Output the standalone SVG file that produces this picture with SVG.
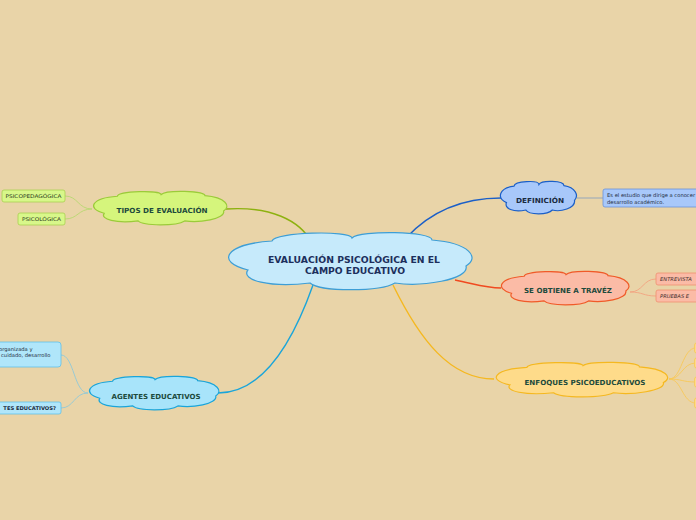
<svg xmlns="http://www.w3.org/2000/svg" xmlns:xlink="http://www.w3.org/1999/xlink" width="696" height="520" viewBox="0 0 696 520">
<style>
.t{font-family:"DejaVu Sans","Verdana",sans-serif;font-weight:bold;fill:#1d4a3c}
.s{font-family:"DejaVu Sans","Verdana",sans-serif;fill:#1e2b3a;font-size:5.2px}
.c{fill:none;stroke-width:1.4}
.l{fill:none;stroke-width:0.9}
</style>
<defs>
<path id="cloud" vector-effect="non-scaling-stroke" d="M19.2,15.5 C20.4,0 50.4,-3.4 51.2,10.3 C54.4,-3.4 83.2,-1.7 83.2,13.8 C98.4,19 102.4,44.8 96.8,58.6 C98.4,82.8 78.4,94.8 68.4,87.9 C62.4,103.4 38.4,103.4 34.4,87.9 C18.4,96.6 6.4,82.8 9.6,65.5 C-3.6,51.7 0.4,20.7 19.2,15.5 Z"/>
</defs>
<rect width="696" height="520" fill="#e9d4a8"/>
<g id="connectors">
<path class="c" stroke="#8db10f" d="M226,209 C270,206 300,220 312,243"/>
<path class="c" stroke="#1b5fc8" d="M406,238 C430,212 460,198 501,198"/>
<path class="c" stroke="#f04a20" d="M455,280 C475,284 485,288 501,288"/>
<path class="c" stroke="#f5b820" d="M393,285 C420,340 450,379 494,379"/>
<path class="c" stroke="#1aa5da" d="M313,285 C290,350 260,393 218,393"/>
<path class="l" stroke="#b8d870" d="M92,209 C78,209 78,196 65,196"/>
<path class="l" stroke="#b8d870" d="M92,209 C78,209 78,219 65,219"/>
<path class="l" stroke="#8aa2bc" d="M577,198 L603,198"/>
<path class="l" stroke="#f3a380" d="M630,292 C643,292 643,279 656,279"/>
<path class="l" stroke="#f3a380" d="M630,292 C643,292 643,296 656,296"/>
<path class="l" stroke="#90c8d8" d="M88,393 C74,393 74,355 61,355"/>
<path class="l" stroke="#90c8d8" d="M88,393 C74,393 74,408 61,408"/>
<path class="l" stroke="#f8c858" d="M669,379 C682,379 682,348 696,348"/>
<path class="l" stroke="#f8c858" d="M669,379 C682,379 682,363 696,363"/>
<path class="l" stroke="#f8c858" d="M669,379 C682,379 682,382 696,382"/>
<path class="l" stroke="#f8c858" d="M669,379 C682,379 682,403 696,403"/>
</g>
<g id="central">
<use xlink:href="#cloud" transform="translate(224,232) scale(2.5,0.58)" fill="#c6eafb" stroke="#3d9ed6" stroke-width="1.2"/>
<text class="t" x="354" y="263" font-size="8.6" text-anchor="middle" fill="#1c2f5c" style="fill:#1c2f5c" textLength="172" lengthAdjust="spacingAndGlyphs">EVALUACIÓN PSICOLÓGICA EN EL</text>
<text class="t" x="355" y="274" font-size="8.6" text-anchor="middle" style="fill:#1c2f5c" textLength="100" lengthAdjust="spacingAndGlyphs">CAMPO EDUCATIVO</text>
</g>
<g id="tipos">
<use xlink:href="#cloud" transform="translate(91,191) scale(1.37,0.34)" fill="#d5f57c" stroke="#9bcb3a" stroke-width="1.2"/>
<text class="t" x="162" y="213" font-size="7" text-anchor="middle" textLength="91" lengthAdjust="spacingAndGlyphs">TIPOS DE EVALUACIÓN</text>
</g>
<g id="psicopedagogica">
<rect x="2" y="190" width="63" height="12" rx="2" fill="#d8f78a" stroke="#a8d050" stroke-width="0.8"/>
<text class="t" x="33.5" y="198" font-size="5" text-anchor="middle" style="fill:#2a3a20;font-weight:normal" textLength="56" lengthAdjust="spacingAndGlyphs">PSICOPEDAGÓGICA</text>
</g>
<g id="psicologica">
<rect x="18" y="213" width="47" height="12" rx="2" fill="#d8f78a" stroke="#a8d050" stroke-width="0.8"/>
<text class="t" x="41.5" y="221" font-size="5" text-anchor="middle" style="fill:#2a3a20;font-weight:normal" textLength="39" lengthAdjust="spacingAndGlyphs">PSICOLÓGICA</text>
</g>
<g id="definicion">
<use xlink:href="#cloud" transform="translate(499,181) scale(0.78,0.33)" fill="#a8c8fa" stroke="#1b5fc8" stroke-width="1.2"/>
<text class="t" x="540" y="203" font-size="7" text-anchor="middle" style="fill:#1a2a40" textLength="48" lengthAdjust="spacingAndGlyphs">DEFINICIÓN</text>
</g>
<g id="definicion-texto">
<rect x="603" y="189" width="100" height="18" rx="2" fill="#a8c8fa" stroke="#6a92d8" stroke-width="0.8"/>
<text class="s" x="607" y="197">Es el estudio que dirige a conocer</text>
<text class="s" x="607" y="204">desarrollo académico.</text>
</g>
<g id="obtiene">
<use xlink:href="#cloud" transform="translate(499,271) scale(1.31,0.34)" fill="#fbbba6" stroke="#f05a28" stroke-width="1.2"/>
<text class="t" x="568" y="293" font-size="7" text-anchor="middle" textLength="88" lengthAdjust="spacingAndGlyphs">SE OBTIENE A TRAVÉZ</text>
</g>
<g id="entrevista">
<rect x="656" y="273" width="48" height="12" rx="2" fill="#fbbba6" stroke="#f09070" stroke-width="0.8"/>
<text class="s" x="660" y="281" font-style="italic" style="fill:#3a2a2a">ENTREVISTA</text>
</g>
<g id="pruebas">
<rect x="656" y="290" width="48" height="12" rx="2" fill="#fbbba6" stroke="#f09070" stroke-width="0.8"/>
<text class="s" x="660" y="298" font-style="italic" style="fill:#3a2a2a">PRUEBAS E</text>
</g>
<g id="enfoques">
<use xlink:href="#cloud" transform="translate(493,362) scale(1.76,0.35)" fill="#fedb8a" stroke="#f5b820" stroke-width="1.2"/>
<text class="t" x="585" y="385" font-size="7" text-anchor="middle" textLength="121" lengthAdjust="spacingAndGlyphs">ENFOQUES PSICOEDUCATIVOS</text>
</g>
<g id="enfoques-hijos">
<rect x="694.5" y="343" width="10" height="10" rx="2" fill="#fedb8a" stroke="#f8c858" stroke-width="0.8"/>
<rect x="694.5" y="358" width="10" height="10" rx="2" fill="#fedb8a" stroke="#f8c858" stroke-width="0.8"/>
<rect x="694.5" y="377" width="10" height="10" rx="2" fill="#fedb8a" stroke="#f8c858" stroke-width="0.8"/>
<rect x="694.5" y="398" width="10" height="10" rx="2" fill="#fedb8a" stroke="#f8c858" stroke-width="0.8"/>
</g>
<g id="agentes">
<use xlink:href="#cloud" transform="translate(87,376) scale(1.33,0.34)" fill="#a8e4fa" stroke="#1aa5da" stroke-width="1.2"/>
<text class="t" x="156" y="399" font-size="7" text-anchor="middle" textLength="89" lengthAdjust="spacingAndGlyphs">AGENTES EDUCATIVOS</text>
</g>
<g id="agentes-definicion">
<rect x="-5" y="342" width="66" height="25" rx="3" fill="#b0e6fa" stroke="#60c0e8" stroke-width="0.8"/>
<text class="s" x="-1" y="351">organizada y</text>
<text class="s" x="1" y="357">cuidado, desarrollo</text>
</g>
<g id="agentes-pregunta">
<rect x="-5" y="402" width="66" height="12" rx="2" fill="#b0e6fa" stroke="#60c0e8" stroke-width="0.8"/>
<text class="t" x="56" y="410" font-size="5.2" text-anchor="end" style="fill:#1a2a40">TES EDUCATIVOS?</text>
</g>
</svg>
